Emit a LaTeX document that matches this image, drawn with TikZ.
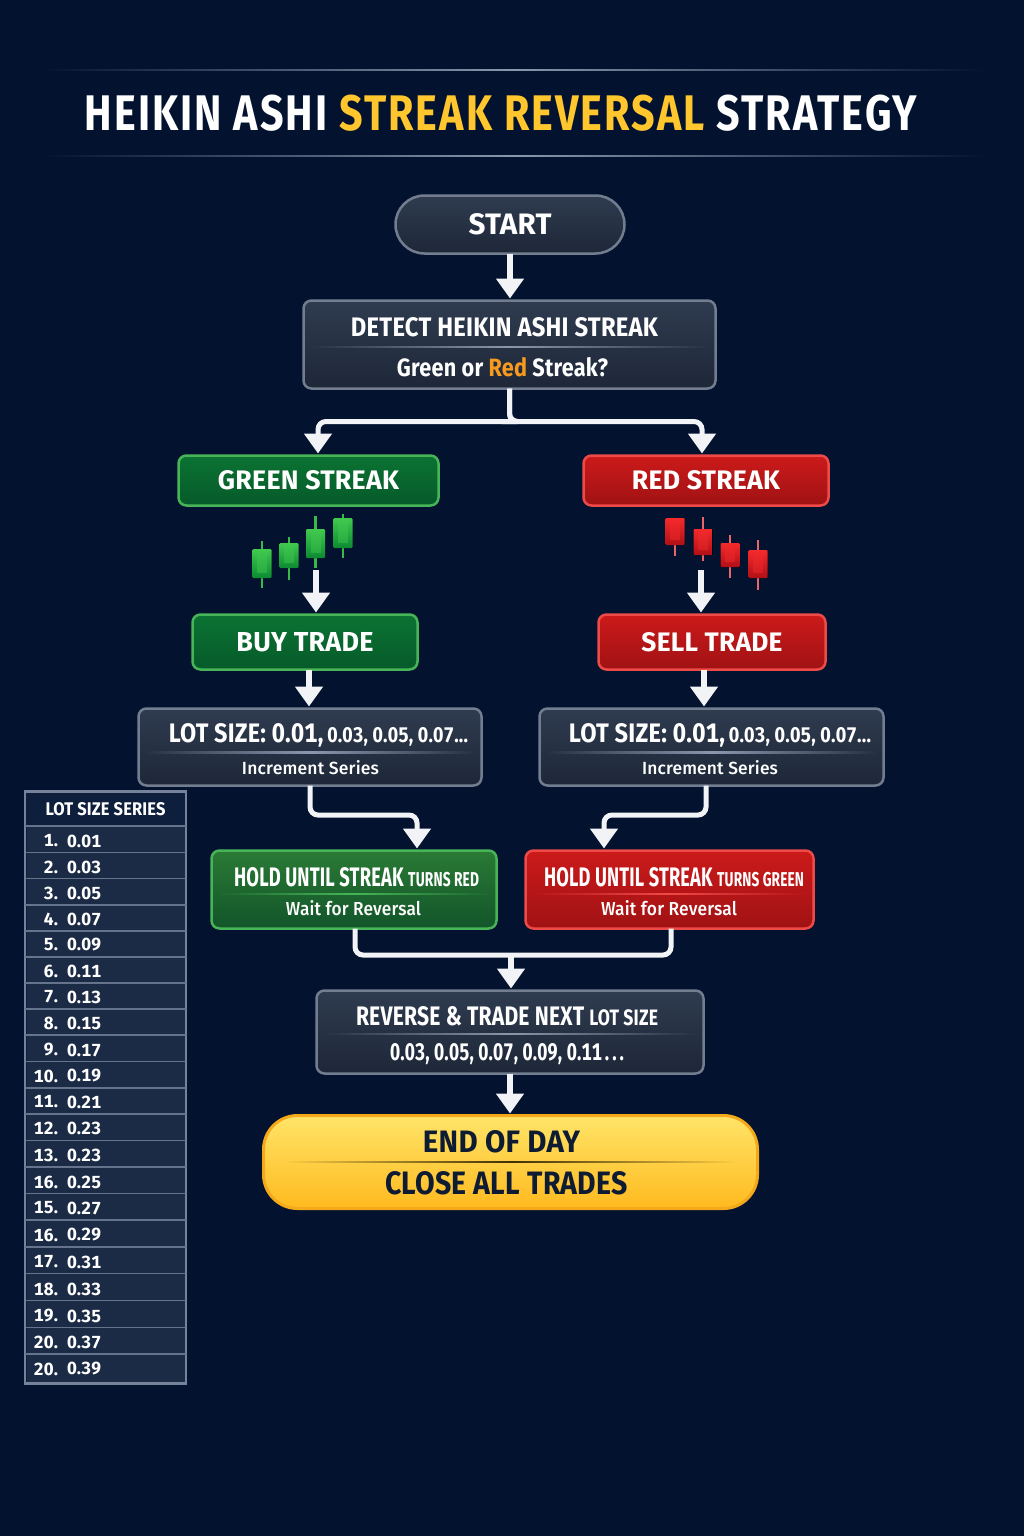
\documentclass[tikz,border=0pt]{standalone}
\usepackage{fontspec}
\usepackage{graphicx}
\setmainfont{Fira Sans}[Numbers=Monospaced,LetterSpace=1]
\newfontfamily\titlefont{Fira Sans}[LetterSpace=5]
\newfontfamily\semifont{Fira Sans Medium}[LetterSpace=1]
\usetikzlibrary{arrows.meta,calc}
\definecolor{bgc}{HTML}{03122F}
\definecolor{linec}{HTML}{8A97AD}
\definecolor{flowc}{HTML}{F1F3F6}
\definecolor{darkt}{HTML}{2F3B4F}
\definecolor{darkb}{HTML}{1D2738}
\definecolor{darkm}{HTML}{263143}
\definecolor{darke}{HTML}{727D8F}
\definecolor{greent}{HTML}{0B7333}
\definecolor{greenb}{HTML}{065A29}
\definecolor{greene}{HTML}{47B557}
\definecolor{greent2}{HTML}{2A7A35}
\definecolor{greenb2}{HTML}{12552A}
\definecolor{greenm}{HTML}{1E6830}
\definecolor{redt}{HTML}{CC1A1A}
\definecolor{redb}{HTML}{A01214}
\definecolor{redm}{HTML}{B61617}
\definecolor{yellowt}{HTML}{FFE468}
\definecolor{yellowb}{HTML}{FFBA1F}
\definecolor{yellowm}{HTML}{FFCF43}
\definecolor{rede}{HTML}{EE4A48}
\definecolor{yellowe}{HTML}{F3A91A}
\definecolor{inkc}{HTML}{0E1C33}
\definecolor{goldc}{HTML}{FFC62E}
\definecolor{orangec}{HTML}{F79A1E}
\definecolor{tablet}{HTML}{0E1F3D}
\definecolor{tabler}{HTML}{1C2B45}
\definecolor{tablee}{HTML}{75829A}
\definecolor{rowc}{HTML}{65738C}
\definecolor{gwick}{HTML}{38B94C}
\definecolor{gtop}{HTML}{41C94F}
\definecolor{gbot}{HTML}{0C8A32}
\definecolor{rwick}{HTML}{E8666A}
\definecolor{rtop}{HTML}{F42A2C}
\definecolor{rbot}{HTML}{B01016}
\newcommand{\fitx}[3]{\resizebox{#1pt}{#2pt}{\bfseries #3}}
\newcommand{\fity}[3]{\raisebox{-1pt}{\resizebox{#1pt}{#2pt}{\bfseries #3}}}
\newcommand{\fitm}[3]{\resizebox{#1pt}{#2pt}{\semifont #3}}
\newcommand{\szp}[1]{\fontsize{#1}{#1}\selectfont}
\tikzset{
  x=1pt,y=-1pt,
  basebox/.style={inner sep=0pt,outer sep=0pt,line width=2.5pt,text=white,align=center,rounded corners=8pt},
  darkbox/.style={basebox,draw=darke,top color=darkt,bottom color=darkb},
  greenbox/.style={basebox,draw=greene,top color=greent,bottom color=greenb},
  greenbox2/.style={basebox,draw=greene,top color=greent2,bottom color=greenb2},
  redbox/.style={basebox,draw=rede,top color=redt,bottom color=redb},
  endbox/.style={basebox,draw=yellowe,line width=3pt,top color=yellowt,bottom color=yellowb,rounded corners=34pt,text=inkc},
  txt/.style={inner sep=0pt,outer sep=0pt,text=white},
  link/.style={draw=flowc,line width=5pt,rounded corners=8pt},
  flow/.style={link,-{Triangle[width=27pt,length=20pt]},shorten >=2pt},
  flowv/.style={flow,line width=6.5pt,-{Triangle[width=27pt,length=20pt]}},
  tabletext/.style={inner sep=0pt,outer sep=0pt,text=white,font=\bfseries\szp{17.5}},
  rowrule/.style={draw=rowc,line width=1.2pt},
}
\newcommand{\divider}[5]{\shade[left color=#5,right color=#5,middle color=#4] (#1,#3-0.6) rectangle (#2,#3+0.6);}
\begin{document}
\begin{tikzpicture}
\useasboundingbox (0,0) rectangle (1024,1536);
\fill[bgc] (0,0) rectangle (1024,1536);
% title rules
\shade[left color=bgc,right color=bgc,middle color=linec] (40,69.2) rectangle (985,70.8);
\shade[left color=bgc,right color=bgc,middle color=linec] (40,155.2) rectangle (985,156.8);
\node[txt,anchor=center] (title) at (501,113.5) {\fitx{832}{35.5}{\titlefont HEIKIN ASHI \textcolor{goldc}{STREAK REVERSAL} STRATEGY}};
% boxes
\node[darkbox,rounded corners=29pt,minimum width=229pt,minimum height=58pt] (start) at (510,224.5) {\fity{83}{21}{START}};
\node[darkbox,minimum width=412pt,minimum height=88pt] (detect) at (509.5,344.5) {};
\divider{310}{708}{347}{linec}{darkm}
\node[txt] (detectA) at (504.5,327) {\fitx{307}{19}{DETECT HEIKIN ASHI STREAK}};
\node[txt] (detectB) at (502.5,367) {\fitx{211}{19}{Green or \textcolor{orangec}{Red} Streak?}};
\node[greenbox,minimum width=260pt,minimum height=50pt] (green) at (308.5,480.5) {\fity{181}{19}{GREEN STREAK}};
\node[redbox,minimum width=245pt,minimum height=50pt] (red) at (706,480.5) {\fity{148}{19}{RED STREAK}};
\node[greenbox,minimum width=225pt,minimum height=55pt] (buy) at (305,642) {\fity{137}{19}{BUY TRADE}};
\node[redbox,minimum width=227pt,minimum height=55pt] (sell) at (712,642) {\fity{141}{19}{SELL TRADE}};
\node[darkbox,minimum width=343pt,minimum height=77pt] (lotL) at (310,747) {};
\divider{146}{474}{752.5}{linec}{darkm}
\node[txt] (lotLA) at (318.5,735) {\fitx{299}{19}{\szp{24}LOT SIZE: 0.01,\,\szp{19}0.03, 0.05, 0.07...}};
\node[txt] (lotLB) at (310.5,768) {\fitm{137}{14}{Increment Series}};
\node[darkbox,minimum width=344pt,minimum height=77pt] (lotR) at (711.5,747) {};
\divider{548}{876}{752.5}{linec}{darkm}
\node[txt] (lotRA) at (720,735) {\fitx{302}{19}{\szp{24}LOT SIZE: 0.01,\,\szp{19}0.03, 0.05, 0.07...}};
\node[txt] (lotRB) at (710,768) {\fitm{136}{14}{Increment Series}};
\node[greenbox2,minimum width=285pt,minimum height=78pt] (holdG) at (354,889.5) {};
\divider{219}{488}{894}{greene}{greenm}
\node[txt] (holdGA) at (356.5,877) {\fitx{245}{19}{\szp{24}HOLD UNTIL STREAK \szp{18}TURNS RED}};
\node[txt] (holdGB) at (353.5,908) {\fitm{135}{15}{Wait for Reversal}};
\node[redbox,minimum width=288pt,minimum height=78pt] (holdR) at (669.5,889.5) {};
\divider{533}{805}{894}{rede}{redm}
\node[txt] (holdRA) at (674,877) {\fitx{260}{19}{\szp{24}HOLD UNTIL STREAK \szp{18}TURNS GREEN}};
\node[txt] (holdRB) at (669,908) {\fitm{136}{15}{Wait for Reversal}};
\node[darkbox,minimum width=387pt,minimum height=83pt] (rev) at (510,1032) {};
\divider{324}{696}{1034}{linec}{darkm}
\node[txt] (revA) at (507,1016.5) {\fitx{302}{19}{\szp{24}REVERSE \& TRADE NEXT \szp{20}LOT SIZE}};
\node[txt] (revB) at (507,1054) {\fitx{234}{17}{0.03, 0.05, 0.07, 0.09, 0.11\,.\,.\,.}};
\node[endbox,minimum width=494pt,minimum height=93pt] (eod) at (510.5,1162) {};
\divider{283}{738}{1162}{black!75!yellowb}{yellowm}
\node[txt,text=inkc] (eodA) at (501.5,1141.5) {\fitx{157}{22}{END OF DAY}};
\node[txt,text=inkc] (eodB) at (506.5,1183) {\fitx{243}{23}{CLOSE ALL TRADES}};
% candles
\foreach \cx/\wt/\wb/\bt/\bb in {262/541/588/549/578,289/537/580/543/568,315.5/516/568/529/558,343/514/558/518/548}{
  \draw[gwick,line width=2.6pt] (\cx,\wt) -- (\cx,\wb);
  \fill[top color=gtop,bottom color=gbot,rounded corners=1pt] (\cx-9.5,\bt) rectangle (\cx+9.5,\bb);
  \fill[gtop,opacity=.45] (\cx-5,\bt+2) rectangle (\cx+5,\bb-5);
}
\foreach \cx/\wt/\wb/\bt/\bb in {675/518/556/518/545,703/517/561/529/555,730/535/578/543/567,758/540/590/550/578}{
  \draw[rwick,line width=2.6pt] (\cx,\wt) -- (\cx,\wb);
  \fill[top color=rtop,bottom color=rbot,rounded corners=1pt] (\cx-9.5,\bt) rectangle (\cx+9.5,\bb);
  \fill[rtop,opacity=.45] (\cx-5,\bt+2) rectangle (\cx+5,\bb-5);
}
% connector anchors
\coordinate (splitC) at (510,421.5);
\coordinate (gcand) at (316,570);
\coordinate (rcand) at (701,570);
\coordinate (lotLrun) at (310,815);
\coordinate (lotRrun) at (706,815);
\coordinate (merge) at (511,955);
% connectors
\draw[flowv] (start.south) -- (start.south |- detect.north);
\draw[flow] (detect.south) |- (splitC) -| ([xshift=9.5pt]green.north);
\draw[flow] (detect.south) |- (splitC) -| ([xshift=-4pt]red.north);
\draw[flowv] (gcand) -- (gcand |- buy.north);
\draw[flowv] (rcand) -- (rcand |- sell.north);
\draw[flowv] ([xshift=4pt]buy.south) -- ([xshift=4pt]buy.south |- lotL.north);
\draw[flowv] ([xshift=-8pt]sell.south) -- ([xshift=-8pt]sell.south |- lotR.north);
\draw[flow] (lotL.south) -- (lotLrun) -| ([xshift=63pt]holdG.north);
\draw[flow] ([xshift=-5.5pt]lotR.south) -- (lotRrun) -| ([xshift=-65.5pt]holdR.north);
\draw[link] ([xshift=1pt]holdG.south) |- (merge) -| ([xshift=1.5pt]holdR.south);
\draw[flowv] (merge) -- (merge |- rev.north);
\draw[flowv] (rev.south) -- (rev.south |- eod.north);
% table
\node[draw=tablee,line width=2.5pt,fill=tablet,minimum width=161pt,minimum height=592pt,inner sep=0pt,outer sep=0pt] (tbl) at (105.5,1087.5) {};
\fill[tabler] (26.5,826.5) rectangle (184.5,1382);
\node[tabletext,text=white] (tblhead) at (105.5,809) {\fitx{120}{13}{LOT SIZE SERIES}};
\foreach \n/\v/\yy in {1./0.01/841,2./0.03/867,3./0.05/893,4./0.07/919,5./0.09/945,6./0.11/971,7./0.13/997,8./0.15/1023,9./0.17/1050,10./0.19/1076,11./0.21/1102,12./0.23/1128,13./0.23/1155,16./0.25/1182,15./0.27/1208,16./0.29/1235,17./0.31/1262,18./0.33/1289,19./0.35/1316,20./0.37/1342,20./0.39/1369}{
  \node[tabletext,anchor=east] at (58,\yy) {\n};
  \node[tabletext,anchor=west] at (67,\yy) {\v};
}
\foreach \yy in {826,852.5,878.5,905,931,957,983,1009,1035,1061.5,1088,1114,1140.5,1167,1193.5,1220,1247,1273.5,1300.5,1327.5,1354}{
  \draw[rowrule] (tbl.west |- 0,\yy) -- (tbl.east |- 0,\yy);
}
\end{tikzpicture}
\end{document}
